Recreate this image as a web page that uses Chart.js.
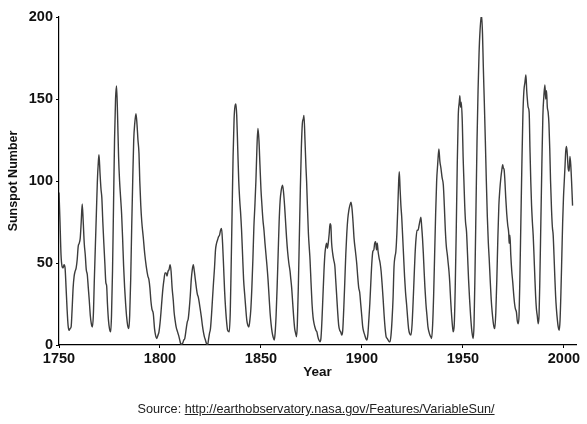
<!DOCTYPE html>
<html>
<head>
<meta charset="utf-8">
<script src="https://cdn.jsdelivr.net/npm/chart.js@4/dist/chart.umd.min.js"></script>
<style>
  body { margin: 0; background: #fff; }
  #wrap { position: relative; width: 587px; height: 424px; }
  #source {
    position: absolute; left: 0; width: 632px; top: 402px;
    text-align: center; font: 12.7px "Liberation Sans", Arial, sans-serif;
    color: #222; line-height: 15px;
  }
  #source span { text-decoration: underline; }
</style>
</head>
<body>
<div id="wrap">
  <canvas id="myChart" width="587" height="424"></canvas>
  <div id="source">Source: <span>http://earthobservatory.nasa.gov/Features/VariableSun/</span></div>
</div>
<script>
// sunspot record
var years = [
 1750.0,1750.5,1751.0,1751.5,1752.0,1752.5,1753.0,1753.5,1754.0,1754.5,1755.0,1755.5,1756.0,1756.5,1757.0,1757.5,1758.0,1758.5,1759.0,1759.5,
 1760.0,1760.5,1761.0,1761.5,1762.0,1762.5,1763.0,1763.5,1764.0,1764.5,1765.0,1765.5,1766.0,1766.5,1767.0,1767.5,1768.0,1768.5,1769.0,1769.5,
 1769.8,1770.3,1770.8,1771.2,1771.7,1772.2,1772.7,1773.2,1773.6,1774.0,1774.5,1775.0,1775.6,1776.0,1776.5,1777.0,1777.5,1778.0,1778.5,1779.0,
 1779.5,1780.0,1780.5,1781.0,1781.5,1782.0,1782.5,1783.0,1783.5,1784.0,1784.6,1785.0,1785.5,1786.0,1786.5,1787.0,1787.5,1788.1,1788.6,1789.1,
 1789.6,1790.0,1790.5,1791.0,1791.7,1792.5,1793.2,1794.0,1794.5,1795.0,1795.5,1796.0,1796.7,1797.3,1797.8,1798.4,1799.0,1799.5,1800.0,1800.5,
 1801.0,1801.5,1802.0,1802.5,1803.0,1803.5,1804.0,1804.5,1805.0,1805.5,1806.0,1806.6,1807.0,1807.5,1808.0,1808.7,1809.2,1809.8,1810.2,1810.7,
 1811.2,1811.8,1812.3,1813.0,1813.5,1814.0,1814.5,1815.0,1815.5,1816.0,1816.5,1817.0,1817.5,1818.0,1818.5,1819.0,1819.8,1820.5,1821.0,1821.5,
 1822.0,1822.5,1823.0,1823.6,1824.0,1824.5,1825.0,1825.5,1826.0,1826.5,1827.0,1827.5,1828.0,1828.5,1829.0,1829.5,1830.0,1830.5,1831.0,1831.5,
 1832.0,1832.5,1833.0,1833.5,1834.3,1834.8,1835.2,1835.7,1836.2,1836.7,1837.2,1837.6,1838.0,1838.5,1839.0,1839.5,1839.9,1840.4,1840.9,1841.4,
 1842.0,1842.5,1843.0,1843.5,1844.0,1844.5,1845.0,1845.5,1846.0,1846.5,1847.0,1847.5,1848.0,1848.5,1849.0,1849.5,1850.0,1850.5,1851.0,1851.5,
 1852.0,1852.5,1853.0,1853.5,1854.0,1854.5,1855.0,1855.5,1856.0,1856.6,1857.0,1857.5,1858.0,1858.5,1859.0,1859.5,1860.0,1860.7,1861.2,1861.7,
 1862.2,1862.7,1863.2,1863.8,1864.4,1864.8,1865.2,1865.7,1866.2,1866.7,1867.2,1867.6,1868.0,1868.5,1869.0,1869.5,1870.0,1870.5,1871.0,1871.3,
 1871.8,1872.3,1872.6,1873.0,1873.5,1874.0,1874.3,1874.8,1875.3,1875.8,1876.3,1876.7,1877.2,1877.7,1878.2,1878.7,1879.2,1879.7,1880.2,1880.7,
 1881.2,1881.7,1882.1,1882.5,1882.9,1883.3,1883.8,1884.2,1884.6,1885.0,1885.5,1886.0,1886.6,1887.0,1887.5,1888.0,1888.5,1889.0,1889.5,1890.0,
 1890.5,1891.0,1891.5,1892.0,1892.5,1893.0,1893.5,1894.0,1894.6,1895.1,1895.6,1896.1,1896.8,1897.4,1897.9,1898.4,1898.9,1899.4,1899.9,1900.4,
 1900.9,1901.4,1901.9,1902.4,1902.9,1903.4,1903.9,1904.4,1904.9,1905.4,1905.9,1906.3,1906.8,1907.2,1907.6,1908.0,1908.5,1909.0,1909.5,1910.0,
 1910.5,1911.0,1911.5,1912.0,1912.5,1913.0,1913.5,1913.9,1914.4,1914.9,1915.4,1915.9,1916.4,1916.8,1917.3,1917.8,1918.2,1918.5,1918.9,1919.3,
 1919.7,1920.1,1920.6,1921.1,1921.6,1922.1,1922.6,1923.1,1923.6,1924.3,1924.8,1925.3,1925.8,1926.3,1926.8,1927.3,1927.8,1928.3,1928.8,1929.2,
 1929.6,1930.0,1930.4,1930.8,1931.2,1931.7,1932.2,1932.7,1933.2,1933.7,1934.1,1934.5,1935.0,1935.5,1936.0,1936.5,1937.0,1937.5,1938.1,1938.6,
 1939.1,1939.7,1940.3,1940.8,1941.3,1941.8,1942.3,1942.7,1943.1,1943.5,1943.9,1944.3,1944.8,1945.2,1945.7,1946.2,1946.7,1947.2,1947.7,1948.2,
 1948.5,1948.8,1949.2,1949.7,1950.1,1950.5,1950.9,1951.3,1951.8,1952.3,1952.8,1953.3,1953.8,1954.3,1954.7,1955.1,1955.5,1956.0,1956.5,1957.0,
 1957.5,1958.0,1958.5,1959.2,1959.7,1960.1,1960.6,1961.1,1961.6,1962.1,1962.6,1963.0,1963.5,1964.0,1964.5,1965.0,1965.4,1965.8,1966.3,1966.8,
 1967.3,1967.8,1968.3,1968.8,1969.3,1969.7,1970.0,1970.4,1970.8,1971.2,1971.7,1972.2,1972.7,1972.9,1973.3,1973.7,1974.2,1974.7,1975.2,1975.6,
 1976.0,1976.5,1976.9,1977.4,1977.8,1978.2,1978.7,1979.2,1979.7,1980.2,1980.7,1981.2,1981.6,1981.9,1982.3,1982.8,1983.2,1983.6,1984.0,1984.4,
 1984.8,1985.2,1985.6,1986.0,1986.4,1986.8,1987.3,1987.7,1988.1,1988.6,1989.1,1989.6,1990.1,1990.6,1991.0,1991.4,1991.8,1992.2,1992.6,1993.0,
 1993.4,1993.9,1994.3,1994.7,1995.1,1995.5,1995.9,1996.3,1996.8,1997.2,1997.7,1998.1,1998.6,1999.0,1999.4,1999.8,2000.2,2000.6,2000.9,2001.3,
 2001.7,2002.1,2002.6,2003.0,2003.4,2003.8,2004.3
];
var sunspots = [
 93,75,55,48,47,49,47,35,22,12,9,10,11,22,35,42,45,47,52,60,
 62,65,75,86,75,62,55,46,43,35,27,18,13,11,18,40,60,80,100,112,
 116,105,95,90,75,62,50,38,36,25,15,10,8,18,45,85,125,150,158,140,
 115,100,90,80,65,48,35,25,17,12,10,18,40,72,100,125,135,141,135,125,
 117,100,85,75,66,55,48,42,40,35,27,22,19,10,6,4,6,8,13,20,
 28,35,40,44,44,42,45,46,49,45,35,27,20,15,11,8,6,3,1,0.5,
 1,3,4,10,14,16,22,30,40,46,49,45,40,35,31,29,23,17,12,8,
 5,3,1,0,3,7,10,18,28,38,47,58,62,64,66,67,70,71,62,48,
 33,22,14,9,8,20,45,80,115,138,146,147,140,120,100,88,81,70,55,40,
 30,22,15,12,11,15,22,35,52,72,85,100,120,132,125,110,95,85,76,70,
 62,55,48,40,30,20,13,8,5,3,7,18,35,55,75,88,94,97.5,93,85,
 75,65,57,50,45,40,35,26,17,10,7,5,12,35,65,95,120,135,138,140,
 125,108,100,85,68,58,52,38,25,17,13,11,9,8,5,3,2,4,15,30,
 45,56,60,62,59,62,68,74,73,62,56,52,48,40,30,20,12,9,8,6,
 9,22,38,55,68,77,82,85,87,83,75,65,57,50,42,35,32,25,18,11,
 8,6,4,3,6,15,25,38,50,57,58,62,63,58,62,57,53,50,45,37,
 28,18,10,5,4,3,2,2,6,15,28,48,54,57,68,85,100,105.6,95,85,
 78,68,55,42,32,25,17,10,7,6,12,25,40,55,65,70,70,73,76,78,
 72,65,56,45,35,25,18,11,8,6,5,4,12,30,55,80,100,110,119.5,112,
 108,102,97.6,85,70,60,55,50,45,38,28,20,12,8,12,35,70,110,140,148,
 152,145,148,136,115,100,85,75,69,55,40,28,18,10,6,4,12,45,85,125,
 155,178,192,201.6,190,170,148,125,100,78,62,53,40,28,20,14,11,10,20,40,
 65,85,95,102,107,110,108,107,100,90,80,73,68,62,67,55,45,38,30,25,
 22,20,15,13,18,40,75,110,140,155,160,164.6,155,150,145,142,120,100,85,75,
 67,55,42,30,22,18,13,18,40,75,110,140,152,158.5,150,155,145,142,135,120,
 100,82,72,67,55,42,30,22,15,11,9,15,35,55,75,90,100,110,118,121,
 116,108,106,115,110,100,85
];
var yTicks = [0, 50, 100, 150, 200];
var xTicks = [1750, 1800, 1850, 1900, 1950, 2000];

var points = years.map(function(yr, i) { return {x: yr, y: sunspots[i]}; });

var tickFont = {family: "'Liberation Sans', Arial, sans-serif", size: 14.5, weight: 'bold'};

new Chart(document.getElementById('myChart'), {
  type: 'line',
  data: {
    datasets: [{
      label: 'Sunspot Number',
      data: points,
      borderColor: '#3c3c3c',
      borderWidth: 1.4,
      pointRadius: 0,
      cubicInterpolationMode: 'monotone',
      fill: false
    }]
  },
  options: {
    responsive: false,
    animation: false,
    devicePixelRatio: 1,
    layout: {padding: {left: 0, right: 11, top: 17, bottom: 39}},
    plugins: {legend: {display: false}, tooltip: {enabled: false}},
    scales: {
      x: {
        type: 'linear',
        min: 1750,
        max: 2006,
        afterBuildTicks: function(scale) {
          scale.ticks = xTicks.map(function(v) { return {value: v}; });
        },
        afterFit: function(scale) { scale.height = 40; },
        grid: {drawOnChartArea: false, tickLength: 3, color: '#000'},
        border: {display: true, color: '#000', width: 1.2},
        ticks: {
          color: '#111', font: tickFont, padding: 2, maxRotation: 0,
          callback: function(v) { return String(v); }
        },
        title: {
          display: true, text: 'Year', color: '#111',
          font: {family: "'Liberation Sans', Arial, sans-serif", size: 13.5, weight: 'bold'},
          padding: {top: 0, bottom: 5}
        }
      },
      y: {
        min: 0,
        max: 200,
        afterBuildTicks: function(scale) {
          scale.ticks = yTicks.map(function(v) { return {value: v}; });
        },
        afterFit: function(scale) { scale.width = 59; },
        grid: {drawOnChartArea: false, tickLength: 3, color: '#000'},
        border: {display: true, color: '#000', width: 1.2},
        ticks: {color: '#111', font: tickFont, padding: 3},
        title: {
          display: true, text: 'Sunspot Number', color: '#111',
          font: {family: "'Liberation Sans', Arial, sans-serif", size: 12.5, weight: 'bold'},
          padding: 6
        }
      }
    }
  }
});
</script>
</body>
</html>
